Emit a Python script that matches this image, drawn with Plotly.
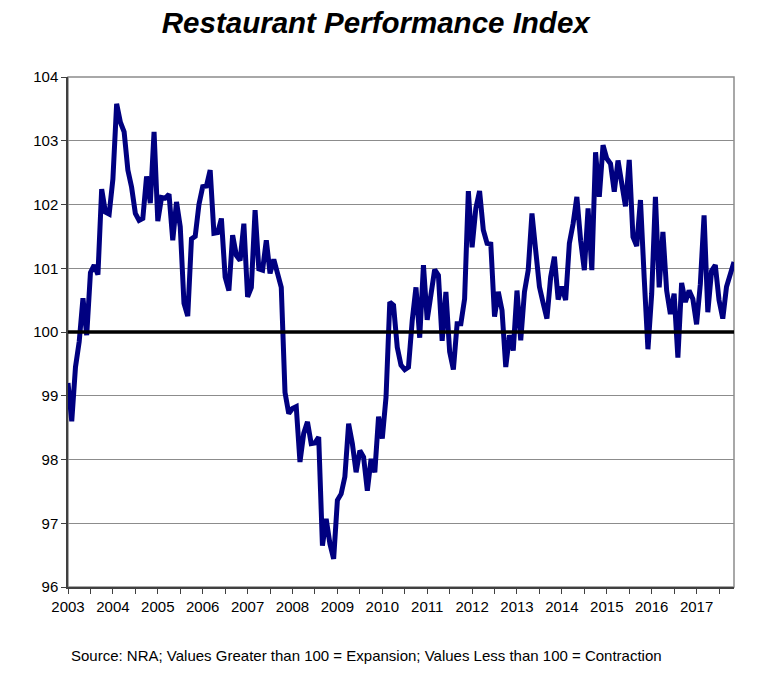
import plotly.graph_objects as go

# ---- data -------------------------------------------------------------
YEARS = list(range(2003, 2018))
MONTH_NAMES = ["Jan", "Feb", "Mar", "Apr", "May", "Jun",
               "Jul", "Aug", "Sep", "Oct", "Nov", "Dec"]
# monthly categories, Jan 2003 .. Nov 2017
months = [f"{m} {y}" for y in YEARS for m in MONTH_NAMES][:179]

rpi = [
    99.2, 98.6, 99.45, 99.85, 100.53, 99.95, 100.93, 101.05, 100.9, 102.24, 101.88, 101.85,   # 2003
    102.4, 103.58, 103.29, 103.14, 102.54, 102.27, 101.86, 101.75, 101.78, 102.44, 102.02, 103.14,  # 2004
    101.74, 102.11, 102.1, 102.16, 101.44, 102.04, 101.65, 100.45, 100.25, 101.46, 101.5, 102.0,  # 2005
    102.28, 102.29, 102.54, 101.55, 101.56, 101.78, 100.86, 100.65, 101.52, 101.2, 101.12, 101.7,  # 2006
    100.55, 100.7, 101.91, 100.99, 100.97, 101.44, 100.92, 101.14, 100.92, 100.7, 99.05, 98.72,  # 2007
    98.8, 98.83, 97.96, 98.41, 98.59, 98.25, 98.26, 98.35, 96.65, 97.07, 96.68, 96.44,  # 2008
    97.36, 97.46, 97.73, 98.56, 98.25, 97.8, 98.14, 98.04, 97.51, 98.01, 97.8, 98.67,  # 2009
    98.33, 98.98, 100.47, 100.42, 99.76, 99.48, 99.41, 99.45, 100.18, 100.7, 99.91, 101.05,  # 2010
    100.19, 100.6, 100.98, 100.89, 99.86, 100.63, 99.69, 99.41, 100.13, 100.13, 100.52, 102.21,  # 2011
    101.33, 101.94, 102.21, 101.6, 101.39, 101.38, 100.24, 100.63, 100.34, 99.45, 99.95, 99.71,  # 2012
    100.65, 99.87, 100.63, 100.97, 101.86, 101.28, 100.71, 100.45, 100.21, 100.86, 101.18, 100.51,  # 2013
    100.71, 100.5, 101.39, 101.7, 102.12, 101.44, 100.97, 101.94, 100.97, 102.82, 102.12, 102.93,  # 2014
    102.72, 102.64, 102.2, 102.69, 102.3, 101.97, 102.7, 101.49, 101.35, 102.07, 100.85, 99.73,  # 2015
    100.6, 102.12, 100.7, 101.57, 100.65, 100.28, 100.6, 99.6, 100.77, 100.47, 100.65, 100.52,  # 2016
    100.12, 100.75, 101.83, 100.31, 100.96, 101.05, 100.5, 100.21, 100.71, 100.9, 101.1,  # 2017
]

BASELINE = 100
Y_TICKS = [96, 97, 98, 99, 100, 101, 102, 103, 104]

TITLE = "Restaurant Performance Index"
SOURCE = "Source: NRA; Values Greater than 100 = Expansion; Values Less than 100 = Contraction"

# tick every 6 months, year label on January
tick_cats = months[::6]
tick_text = [c.split()[1] if c.startswith("Jan") else "" for c in tick_cats]

FONT = "Arial, Liberation Sans, sans-serif"

fig = go.Figure()
fig.add_trace(go.Scatter(
    x=months, y=rpi, mode="lines",
    line=dict(color="#000080", width=5),
    showlegend=False, hoverinfo="x+y",
))
fig.add_trace(go.Scatter(
    x=months, y=[BASELINE] * len(months), mode="lines",
    line=dict(color="#000000", width=3.5),
    showlegend=False, hoverinfo="skip",
))

fig.update_layout(
    width=770, height=677,
    margin=dict(l=68, r=36, t=77, b=90),
    paper_bgcolor="white", plot_bgcolor="white",
    font=dict(family=FONT, color="#000000", size=15),
    title=dict(
        text=f"<b><i>{TITLE}</i></b>",
        font=dict(family=FONT, size=29.5, color="#000000"),
        x=0.488, xanchor="center", xref="container",
        y=1 - 23 / 677, yanchor="middle", yref="container",
    ),
    xaxis=dict(
        type="category",
        range=[0, len(months) - 1],
        tickmode="array", tickvals=tick_cats, ticktext=tick_text,
        ticks="outside", ticklen=5, tickwidth=1, tickcolor="#404040",
        showline=True, linecolor="#404040", linewidth=1.5,
        showgrid=False, zeroline=False,
        tickfont=dict(family=FONT, size=15, color="#000000"),
        tickangle=0,
    ),
    yaxis=dict(
        range=[Y_TICKS[0], Y_TICKS[-1]],
        tickmode="array", tickvals=Y_TICKS,
        ticks="outside", ticklen=5, tickwidth=1, tickcolor="#404040",
        showline=True, linecolor="#404040", linewidth=1.5,
        showgrid=True, gridcolor="#8c8c8c", gridwidth=1,
        zeroline=False,
        tickfont=dict(family=FONT, size=15, color="#000000"),
    ),
    shapes=[dict(
        type="rect", xref="paper", yref="paper", x0=0, x1=1, y0=0, y1=1,
        line=dict(color="#8c8c8c", width=1.5), layer="below",
    )],
    annotations=[dict(
        text=SOURCE, xref="paper", yref="paper",
        x=0.4485, y=-0.135, xanchor="center", yanchor="middle",
        showarrow=False, font=dict(family=FONT, size=15, color="#000000"),
    )],
)

fig.write_html("out.html")
